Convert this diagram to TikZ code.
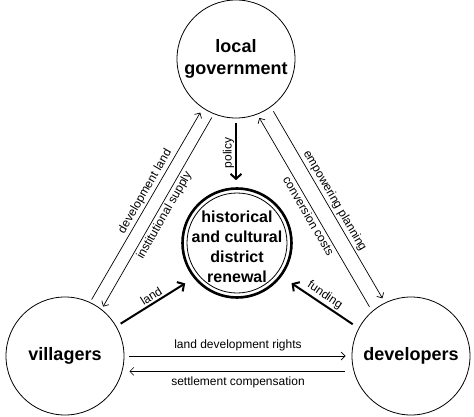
\documentclass[tikz,border=0pt]{standalone}
\usepackage{fontspec}
\setmainfont{Liberation Sans}
\usetikzlibrary{arrows.meta}

\tikzset{
  actor/.style={circle, draw, line width=0.8pt, minimum size=118pt, inner sep=0pt,
    align=center, font=\fontsize{18}{22}\selectfont\bfseries},
  goal/.style={circle, draw, line width=2.6pt, minimum size=109pt, inner sep=0pt},
  goaltext/.style={align=center, inner sep=0pt, font=\fontsize{16}{20}\selectfont\bfseries},
  flow/.style={line width=0.7pt, -{Straight Barb[length=4pt,width=8pt]}},
  push/.style={line width=2pt, -{Straight Barb[length=5pt,width=11pt]}},
  lbl/.style={font=\fontsize{12}{14}\selectfont, inner sep=2pt},
}

\begin{document}
\begin{tikzpicture}[x=1pt,y=1pt]
            \useasboundingbox (0,0) rectangle (474,416);

            % actors
            \node[actor] (gov) at (236,357) {local\\government};
            \node[actor] (vil) at (65,60) {villagers};
            \node[actor] (dev) at (411,60) {developers};

            % renewal in the middle
            \node[goal] (ren) at (237,173) {};
            \draw[line width=0.8pt] (ren.center) circle (50);
            \node[goaltext] (rentext) at ([yshift=-3.5pt]ren.center) {historical\\and cultural\\district\\renewal};

            % villagers <-> local government
            \draw[flow, shorten <=3pt, shorten >=5pt] (vil.65) -- (gov.-124)
              node[lbl, sloped, pos=.55, above] {development land};
            \draw[flow, shorten <=4pt, shorten >=3pt] (gov.-112) -- (vil.52)
              node[lbl, sloped, pos=.5, below] {institutional supply};

            % developers <-> local government
            \draw[flow, shorten <=5pt, shorten >=4pt] (dev.131) -- (gov.-69)
              node[lbl, sloped, pos=.5, below] {conversion costs};
            \draw[flow, shorten <=5pt, shorten >=5pt] (gov.-54) -- (dev.116)
              node[lbl, sloped, pos=.5, above] {empowering planning};

            % villagers <-> developers
            \draw[flow, shorten <=5pt, shorten >=6pt] (vil.0) -- (dev.180)
              node[lbl, midway, above=3pt] {land development rights};
            \draw[flow, shorten <=9pt, shorten >=7pt] (dev.195) -- (vil.-15)
              node[lbl, midway, below=3pt] {settlement compensation};

            % inputs to the renewal
            \draw[push, shorten <=5pt, shorten >=7pt] (gov.south) -- (gov.south |- ren.north)
              node[lbl, midway, rotate=90, above, inner sep=1pt] {policy};
            \draw[push, shorten <=5pt, shorten >=10pt] (vil.30) -- (ren.219)
              node[lbl, sloped, midway, above] {land};
            \draw[push, shorten <=7pt, shorten >=12pt] (dev.152) -- (ren.-37)
              node[lbl, sloped, midway, above] {funding};
\end{tikzpicture}
\end{document}
